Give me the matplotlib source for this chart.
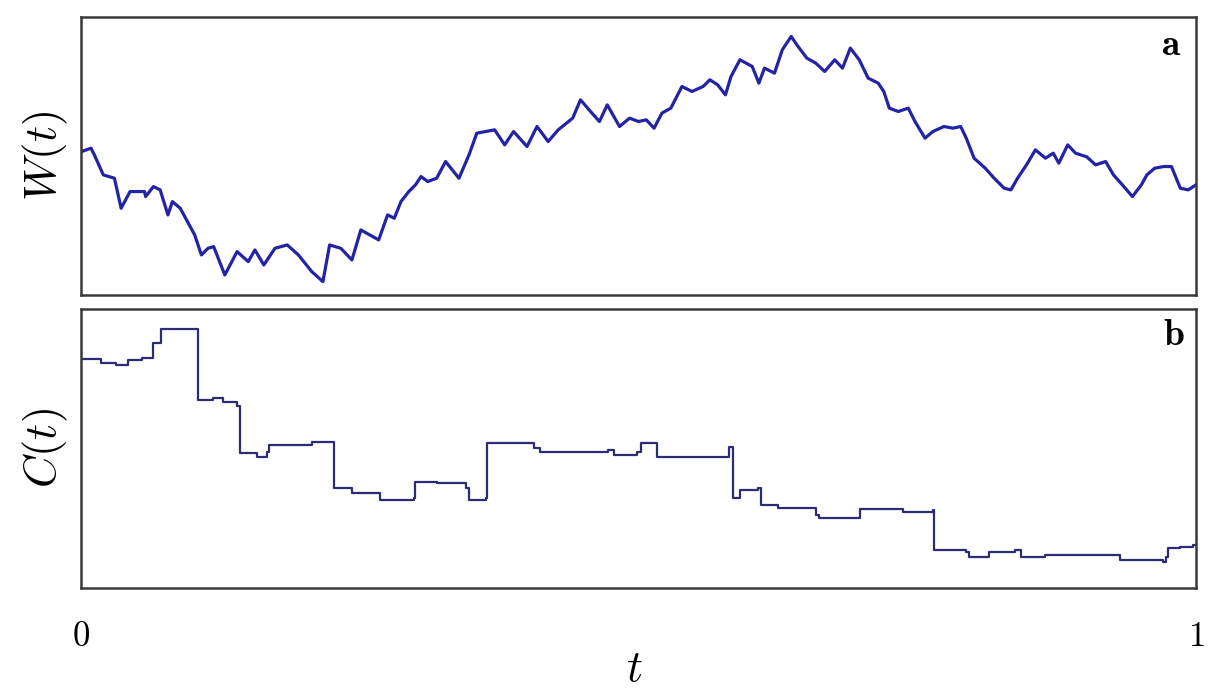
import matplotlib
matplotlib.use("Agg")
import matplotlib.pyplot as plt

plt.rcParams['mathtext.fontset'] = 'cm'
plt.rcParams['font.family'] = 'serif'

# W(t): Brownian path
t_w = [0.000, 0.009, 0.012, 0.020, 0.030, 0.036, 0.044, 0.057, 0.058, 0.065,
       0.071, 0.078, 0.082, 0.089, 0.102, 0.108, 0.114, 0.119, 0.129, 0.140,
       0.150, 0.156, 0.164, 0.174, 0.185, 0.195, 0.207, 0.217, 0.223, 0.233,
       0.243, 0.251, 0.259, 0.267, 0.275, 0.281, 0.287, 0.294, 0.300, 0.305,
       0.311, 0.319, 0.327, 0.339, 0.348, 0.355, 0.371, 0.380, 0.388, 0.400,
       0.409, 0.419, 0.428, 0.441, 0.448, 0.457, 0.465, 0.472, 0.483, 0.492,
       0.500, 0.507, 0.514, 0.521, 0.529, 0.539, 0.548, 0.558, 0.564, 0.571,
       0.578, 0.583, 0.591, 0.602, 0.608, 0.613, 0.622, 0.629, 0.637, 0.642,
       0.651, 0.659, 0.667, 0.676, 0.683, 0.690, 0.698, 0.706, 0.715, 0.720,
       0.725, 0.733, 0.742, 0.748, 0.757, 0.764, 0.774, 0.782, 0.789, 0.794,
       0.801, 0.811, 0.819, 0.828, 0.834, 0.840, 0.848, 0.856, 0.865, 0.872,
       0.877, 0.885, 0.892, 0.902, 0.910, 0.919, 0.926, 0.934, 0.943, 0.951,
       0.956, 0.963, 0.971, 0.978, 0.986, 0.993, 1.000]
w_vals = [0.515, 0.528, 0.504, 0.432, 0.420, 0.312, 0.372, 0.372, 0.354, 0.390,
          0.378, 0.288, 0.336, 0.312, 0.216, 0.144, 0.168, 0.174, 0.072, 0.156,
          0.120, 0.162, 0.108, 0.168, 0.180, 0.144, 0.084, 0.048, 0.180, 0.168,
          0.126, 0.234, 0.216, 0.198, 0.288, 0.276, 0.336, 0.372, 0.396, 0.426,
          0.408, 0.420, 0.480, 0.420, 0.504, 0.582, 0.594, 0.540, 0.588, 0.534,
          0.606, 0.552, 0.594, 0.636, 0.702, 0.660, 0.624, 0.684, 0.606, 0.636,
          0.624, 0.630, 0.600, 0.654, 0.672, 0.750, 0.732, 0.750, 0.774, 0.756,
          0.720, 0.786, 0.846, 0.822, 0.762, 0.816, 0.798, 0.882, 0.930, 0.900,
          0.852, 0.834, 0.804, 0.846, 0.816, 0.888, 0.846, 0.780, 0.762, 0.732,
          0.672, 0.660, 0.672, 0.624, 0.564, 0.588, 0.606, 0.600, 0.606, 0.564,
          0.492, 0.456, 0.420, 0.384, 0.378, 0.420, 0.468, 0.522, 0.492, 0.510,
          0.474, 0.540, 0.510, 0.497, 0.468, 0.480, 0.432, 0.396, 0.354, 0.396,
          0.432, 0.456, 0.462, 0.462, 0.384, 0.378, 0.396]

# C(t): step-like path
t_c = [0.000, 0.018, 0.031, 0.042, 0.055, 0.065, 0.065, 0.071, 0.072, 0.105,
       0.105, 0.118, 0.127, 0.140, 0.143, 0.143, 0.158, 0.167, 0.169, 0.207,
       0.227, 0.227, 0.243, 0.268, 0.299, 0.300, 0.319, 0.345, 0.348, 0.363,
       0.364, 0.406, 0.412, 0.473, 0.478, 0.499, 0.502, 0.514, 0.517, 0.578,
       0.581, 0.585, 0.585, 0.591, 0.607, 0.610, 0.625, 0.659, 0.662, 0.693,
       0.699, 0.737, 0.764, 0.765, 0.794, 0.796, 0.814, 0.838, 0.843, 0.865,
       0.929, 0.932, 0.970, 0.973, 0.975, 0.986, 0.997, 1.000]
c_vals = [0.820, 0.805, 0.799, 0.817, 0.823, 0.829, 0.877, 0.877, 0.928, 0.928,
          0.674, 0.680, 0.668, 0.652, 0.652, 0.483, 0.471, 0.489, 0.513, 0.524,
          0.519, 0.357, 0.339, 0.315, 0.322, 0.381, 0.375, 0.357, 0.315, 0.322,
          0.519, 0.501, 0.489, 0.495, 0.477, 0.489, 0.521, 0.519, 0.471, 0.471,
          0.506, 0.506, 0.322, 0.351, 0.357, 0.297, 0.286, 0.262, 0.250, 0.250,
          0.282, 0.273, 0.280, 0.136, 0.130, 0.112, 0.130, 0.136, 0.110, 0.118,
          0.118, 0.100, 0.094, 0.112, 0.142, 0.146, 0.154, 0.154]

fig = plt.figure(figsize=(12.25, 6.9), dpi=100)
ax1 = fig.add_axes([0.0661, 0.5725, 0.9102, 0.4029])
ax2 = fig.add_axes([0.0661, 0.1478, 0.9102, 0.4044])

ax1.plot(t_w, w_vals, color='#2323a6', lw=2.3)
ax2.plot(t_c, c_vals, color='#2c2c74', lw=1.6, drawstyle='steps-post')

for ax in (ax1, ax2):
    ax.set_xlim(0, 1)
    ax.set_ylim(0, 1)
    ax.set_yticks([])
    for s in ax.spines.values():
        s.set_linewidth(1.8)
        s.set_color('#3a3a3a')

ax1.set_xticks([])
ax2.set_xticks([0, 1])
ax2.set_xticklabels([r'$0$', r'$1$'], fontsize=25)
ax2.tick_params(axis='x', length=0, pad=22)

ax1.text(0.978, 0.90, r'$\mathbf{a}$', transform=ax1.transAxes, fontsize=27,
         ha='center', va='center')
ax2.text(0.980, 0.905, r'$\mathbf{b}$', transform=ax2.transAxes, fontsize=27,
         ha='center', va='center')

fig.text(0.037, 0.774, r'$W(t)$', rotation=90, fontsize=32, ha='center', va='center')
fig.text(0.037, 0.351, r'$C(t)$', rotation=90, fontsize=32, ha='center', va='center')
fig.text(0.518, 0.032, r'$t$', fontsize=32, ha='center', va='center')

fig.savefig('out.png', dpi=100)
